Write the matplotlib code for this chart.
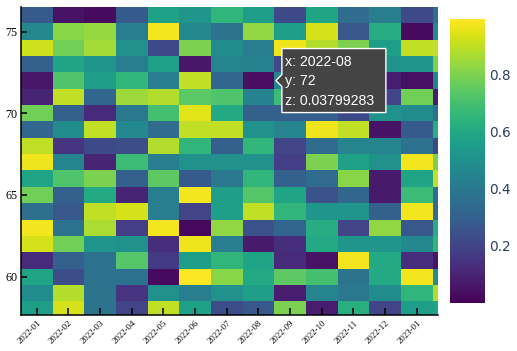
import matplotlib.pyplot as plt
import matplotlib.transforms as mtransforms
from matplotlib.patches import Polygon
import numpy as np

# 数据 (months on x, y values 58..76)
months = ['2022-01', '2022-02', '2022-03', '2022-04', '2022-05', '2022-06', '2022-07',
          '2022-08', '2022-09', '2022-10', '2022-11', '2022-12', '2023-01', '2023-02']
y_vals = [76, 75, 74, 73, 72, 71, 70, 69, 68, 67, 66, 65, 64, 63, 62, 61, 60, 59, 58]

z_rows = [
    [0.28, 0.05, 0.03, 0.28, 0.57, 0.52, 0.65, 0.55, 0.22, 0.58, 0.35, 0.42, 0.22, 0.35],
    [0.47, 0.82, 0.84, 0.42, 0.98, 0.47, 0.38, 0.83, 0.55, 0.93, 0.27, 0.62, 0.03, 0.47],
    [0.92, 0.78, 0.86, 0.50, 0.22, 0.80, 0.48, 0.42, 0.97, 0.88, 0.80, 0.55, 0.90, 0.90],
    [0.30, 0.58, 0.52, 0.42, 0.57, 0.06, 0.45, 0.44, 0.22, 0.35, 0.60, 0.50, 0.52, 0.80],
    [0.06, 0.72, 0.55, 0.65, 0.42, 0.90, 0.33, 0.03799283, 0.45, 0.15, 0.70, 0.08, 0.04, 0.45],
    [0.10, 0.90, 0.33, 0.85, 0.88, 0.74, 0.72, 0.44, 0.68, 0.30, 0.55, 0.20, 0.78, 0.08],
    [0.78, 0.30, 0.12, 0.40, 0.70, 0.95, 0.60, 0.30, 0.30, 0.30, 0.22, 0.50, 0.48, 0.37],
    [0.33, 0.48, 0.90, 0.47, 0.35, 0.90, 0.90, 0.50, 0.45, 0.97, 0.90, 0.05, 0.28, 0.62],
    [0.90, 0.15, 0.22, 0.23, 0.88, 0.65, 0.30, 0.65, 0.20, 0.35, 0.45, 0.45, 0.37, 0.22],
    [0.97, 0.45, 0.10, 0.68, 0.42, 0.50, 0.50, 0.50, 0.18, 0.80, 0.57, 0.50, 0.98, 0.80],
    [0.58, 0.72, 0.80, 0.30, 0.75, 0.28, 0.40, 0.65, 0.30, 0.35, 0.82, 0.07, 0.58, 0.90],
    [0.78, 0.30, 0.60, 0.10, 0.42, 0.98, 0.56, 0.73, 0.58, 0.25, 0.33, 0.07, 0.68, 0.35],
    [0.36, 0.27, 0.90, 0.93, 0.42, 0.20, 0.56, 0.90, 0.65, 0.52, 0.52, 0.30, 0.98, 0.35],
    [0.98, 0.37, 0.87, 0.18, 0.98, 0.02, 0.83, 0.25, 0.32, 0.62, 0.20, 0.83, 0.27, 0.62],
    [0.93, 0.78, 0.52, 0.50, 0.13, 0.97, 0.42, 0.07, 0.13, 0.60, 0.52, 0.52, 0.47, 0.65],
    [0.12, 0.30, 0.37, 0.73, 0.17, 0.55, 0.65, 0.58, 0.12, 0.05, 0.98, 0.60, 0.13, 0.05],
    [0.58, 0.23, 0.37, 0.37, 0.03, 0.99, 0.82, 0.60, 0.75, 0.70, 0.38, 0.60, 0.98, 0.48],
    [0.48, 0.88, 0.38, 0.15, 0.50, 0.42, 0.50, 0.56, 0.08, 0.45, 0.40, 0.48, 0.65, 0.88],
    [0.55, 0.93, 0.38, 0.20, 0.90, 0.57, 0.23, 0.27, 0.80, 0.08, 0.63, 0.20, 0.55, 0.58],
]

hover_month = '2022-08'
hover_y = 72

z = np.array(z_rows)
x_idx = np.arange(len(months))

# 创建图表
fig = plt.figure(figsize=(5.17, 3.51), dpi=100)
ax = fig.add_axes([0.0406, 0.1026, 0.8066, 0.8775])
mesh = ax.pcolormesh(x_idx, y_vals, z, cmap='viridis', shading='nearest',
                     vmin=0.0, vmax=0.996)
ax.set_xlim(-0.5, 12.67)
ax.set_ylim(57.66, 76.5)

ax.set_xticks(x_idx[:13])
ax.set_xticklabels(months[:13], rotation=45, ha='right', va='top',
                   rotation_mode='anchor', family='Liberation Serif', fontsize=6.3)
ax.set_yticks([60, 65, 70, 75])
ax.set_yticklabels(['60', '65', '70', '75'], family='Liberation Serif', fontsize=8.7)
ax.tick_params(axis='x', direction='in', length=4.8, width=1.1, pad=3)
ax.tick_params(axis='y', direction='in', length=4.3, width=1.1, pad=2.5)
for s in ['top', 'right']:
    ax.spines[s].set_visible(False)
for s in ['left', 'bottom']:
    ax.spines[s].set_linewidth(1.1)

# colorbar
cax = fig.add_axes([0.870, 0.1368, 0.0677, 0.809])
cb = fig.colorbar(mesh, cax=cax)
cb.outline.set_visible(False)
cb.set_ticks([0.2, 0.4, 0.6, 0.8])
cb.ax.tick_params(length=0, pad=3, labelsize=9.8, labelcolor='#2a3f5f')

# hover label
hx = months.index(hover_month) + 0.55
hz = z[y_vals.index(hover_y), months.index(hover_month)]
tr = mtransforms.Affine2D() + mtransforms.ScaledTranslation(hx, hover_y, ax.transData)
verts = [(0, 0), (6, 6), (6, 32), (110, 32), (110, -32), (6, -32), (6, -6)]
ax.add_patch(Polygon(verts, closed=True, transform=tr, facecolor='#444444',
                     edgecolor='white', linewidth=1, clip_on=False, zorder=5))
lines = ['x: ' + hover_month, 'y: ' + str(hover_y), 'z: ' + f'{hz:.8g}']
for i, t in enumerate(lines):
    ax.text(9, 19 - 19.5 * i, t, transform=tr, color='white', fontsize=10.2,
            family='Liberation Sans', va='center', ha='left', zorder=6)

plt.savefig("out.png", dpi=100)
